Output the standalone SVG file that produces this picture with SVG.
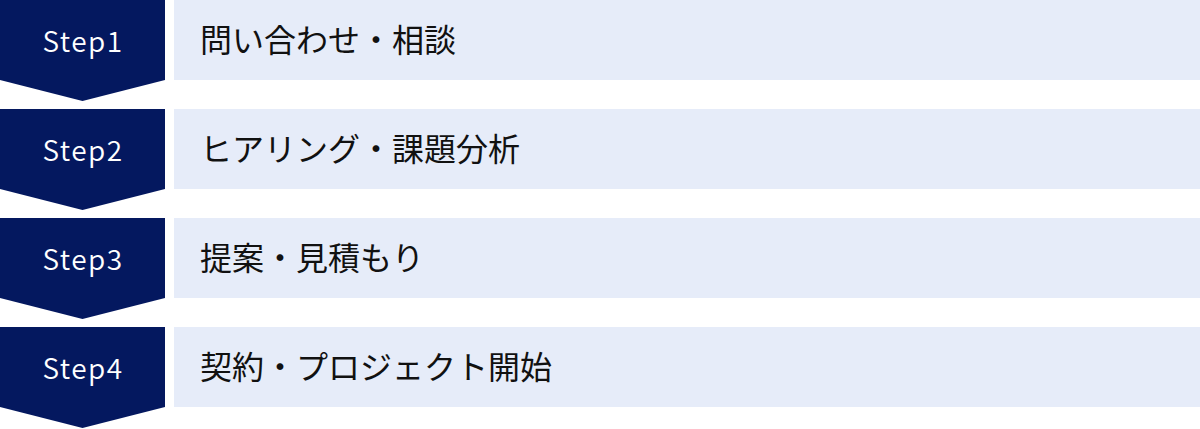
<svg xmlns="http://www.w3.org/2000/svg" width="1200" height="429" viewBox="0 0 1200 429">
<defs>
<style>
.chev{fill:#04185F}
.box{fill:#E6ECF9}
.step{fill:#FFFFFF;font-family:"Noto Sans CJK JP","Noto Sans",sans-serif;font-size:28px;font-weight:350;letter-spacing:1.5px;text-anchor:middle}
.label{fill:#111111;font-family:"Noto Sans CJK JP","Noto Sans",sans-serif;font-size:32px;font-weight:400}
</style>
<path id="chevShape" d="M0 0H165V80L82.5 101L0 80Z"/>
</defs>
<g id="step1">
<use href="#chevShape" class="chev"/>
<rect class="box" x="174" y="0" width="1026" height="80"/>
<text class="step" x="83" y="52">Step1</text>
<text class="label" x="200" y="52">問い合わせ・相談</text>
</g>
<g id="step2" transform="translate(0,109)">
<use href="#chevShape" class="chev"/>
<rect class="box" x="174" y="0" width="1026" height="80"/>
<text class="step" x="83" y="52">Step2</text>
<text class="label" x="200" y="52">ヒアリング・課題分析</text>
</g>
<g id="step3" transform="translate(0,218)">
<use href="#chevShape" class="chev"/>
<rect class="box" x="174" y="0" width="1026" height="80"/>
<text class="step" x="83" y="52">Step3</text>
<text class="label" x="200" y="52">提案・見積もり</text>
</g>
<g id="step4" transform="translate(0,327)">
<use href="#chevShape" class="chev"/>
<rect class="box" x="174" y="0" width="1026" height="80"/>
<text class="step" x="83" y="52">Step4</text>
<text class="label" x="200" y="52">契約・プロジェクト開始</text>
</g>
<g id="connectors"></g>
</svg>
